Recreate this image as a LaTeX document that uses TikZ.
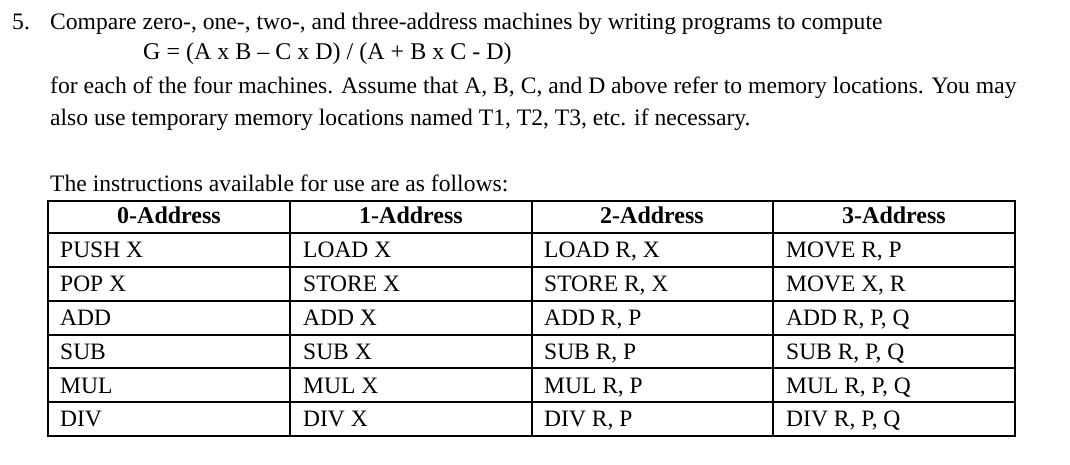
\documentclass[tikz,border=0pt]{standalone}
\usepackage{fontspec}
\setmainfont{Liberation Serif}
\usetikzlibrary{positioning}

\begin{document}
\begin{tikzpicture}[
    x=1pt, y=-1pt,
    txt/.style={anchor=base west, inner sep=0pt, font=\fontsize{23.6}{28}\selectfont},
    head/.style={anchor=base, inner sep=0pt, font=\fontsize{24}{28}\selectfont\bfseries},
    cell/.style={anchor=base west, inner sep=0pt, font=\fontsize{23.5}{28}\selectfont},
    grid/.style={draw=black, line width=1.2pt}
]
    \useasboundingbox (0,0) rectangle (1070,464);

    % Question text
    \node[txt] (num) at (12,29) {5.};
    \node[txt] (l1) at (50,29) {Compare zero-, one-, two-, and three-address machines by writing programs to compute};
    \node[txt, font=\fontsize{24}{28}\selectfont] (eq) at (143,59) {G = (A x B -- C x D) / (A + B x C - D)};
    \node[txt] (l3) at (50,93) {for each of the four machines. Assume that A, B, C, and D above refer to memory locations. You may};
    \node[txt] (l4) at (50,125) {also use temporary memory locations named T1, T2, T3, etc. if necessary.};
    \node[txt] (intro) at (50,191) {The instructions available for use are as follows:};

    % Table frame
    \draw[grid] (48,201) rectangle (1015,436);
    \foreach \y in {233,267,301,335,368,402}
        \draw[grid] (48,\y) -- (1015,\y);
    \foreach \x in {290,532,773}
        \draw[grid] (\x,201) -- (\x,436);

    % Header
    \node[head] (h0) at (169,223) {0-Address};
    \node[head] (h1) at (411,223) {1-Address};
    \node[head] (h2) at (652,223) {2-Address};
    \node[head] (h3) at (894,223) {3-Address};

    % Rows
    \foreach \a/\b/\c/\d [count=\i] in {
        PUSH X/LOAD X/{LOAD R, X}/{MOVE R, P},
        POP X/STORE X/{STORE R, X}/{MOVE X, R},
        ADD/ADD X/{ADD R, P}/{ADD R, P, Q},
        SUB/SUB X/{SUB R, P}/{SUB R, P, Q},
        MUL/MUL X/{MUL R, P}/{MUL R, P, Q},
        DIV/DIV X/{DIV R, P}/{DIV R, P, Q}} {
        \pgfmathsetmacro\yb{224+33.8*\i}
        \node[cell] (a\i) at (60,\yb) {\a};
        \node[cell] (b\i) at (303,\yb) {\b};
        \node[cell] (c\i) at (544,\yb) {\c};
        \node[cell] (d\i) at (786,\yb) {\d};
    }
\end{tikzpicture}
\end{document}
